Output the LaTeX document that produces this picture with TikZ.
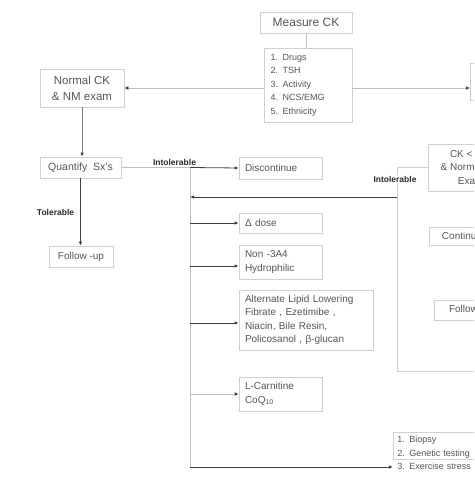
\documentclass[tikz,border=0pt]{standalone}
\usepackage{fontspec}
\setmainfont{Liberation Sans}
\usetikzlibrary{arrows.meta}
\definecolor{boxline}{HTML}{D0D0D0}
\definecolor{boxtext}{HTML}{555555}
\definecolor{labtext}{HTML}{2A2A2A}
\tikzset{
  font={\fontsize{10pt}{13.4pt}\selectfont}}

\begin{document}
\begin{tikzpicture}[x=1pt,y=-1pt,
  box/.style={draw=boxline,line width=0.6pt,fill=white,text=boxtext,inner xsep=6pt,inner ysep=2pt},
  lbox/.style={box,align=left,text width=#1},
  lab/.style={font=\bfseries\fontsize{8.5pt}{10pt}\selectfont,text=labtext,inner sep=1pt},
  lightline/.style={draw=black!25,line width=0.6pt},
  midline/.style={draw=black!50,line width=0.8pt},
  darkline/.style={draw=black!75,line width=0.8pt},
  arr/.style={-{Latex[length=4pt,width=3.5pt,color=black!75]}}]
\clip (0,0) rectangle (474,478);
\node[box,minimum width=92pt,minimum height=21pt,font=\fontsize{12pt}{14pt}\selectfont] (measure) at (306,22.5) {Measure CK};
\node[lbox=75pt,minimum height=74pt,inner xsep=6.5pt,font=\fontsize{9pt}{13.5pt}\selectfont] (tests) at (308,85) {1. Drugs\\2. TSH\\3. Activity\\4. NCS/EMG\\5. Ethnicity};
\node[box,minimum width=84pt,minimum height=38pt,align=center,font=\fontsize{11.5pt}{16pt}\selectfont] (normal) at (82,88) {Normal CK\\\& NM exam};
\node[box,minimum width=81pt,minimum height=21pt,font=\fontsize{10.5pt}{12pt}\selectfont] (quant) at (80.5,167.5) {Quantify\ \ Sx's};
\node[box,minimum width=64pt,minimum height=21pt] (follow) at (81,256.5) {Follow -up};
\node[lbox=71pt,minimum height=22pt] (disc) at (280.5,168) {Discontinue};
\node[lbox=71pt,minimum height=20pt] (dose) at (280.5,223) {Δ dose};
\node[lbox=71pt,minimum height=34pt] (nonA) at (280.5,262) {Non -3A4\\Hydrophilic};
\node[lbox=122pt,minimum height=60pt] (alt) at (306,320) {Alternate Lipid Lowering\\Fibrate , Ezetimibe ,\\Niacin, Bile Resin,\\Policosanol , β-glucan};
\node[lbox=71pt,minimum height=34pt] (carn) at (280.5,394) {L-Carnitine\\CoQ\textsubscript{10}};
\node[box,minimum width=90pt,minimum height=37pt,anchor=north west] (rbox) at (470,63) {};
\node[box,minimum width=130pt,minimum height=204pt,anchor=north west] (group) at (397,167) {};
\node[box,align=center,minimum width=85.4pt,minimum height=47pt,font=\fontsize{10pt}{13.5pt}\selectfont] (ckbox) at (470.7,167.5) {CK < 10x\\\& Normal NM\\Exam};
\node[box,minimum width=66pt,minimum height=18pt] (cont) at (462,236) {Continue};
\node[box,minimum width=73pt,minimum height=20pt] (foll) at (470.7,310) {Follow-up};
\node[lbox=100pt,inner xsep=4pt,inner ysep=4pt,text depth=12pt,anchor=north west,font=\fontsize{9pt}{13.5pt}\selectfont] (biopsy) at (393,432) {1. Biopsy\\2. Genetic testing\\3. Exercise stress};
\coordinate (jtop) at (190,167.5);
\coordinate (jbot) at (190,467);
\coordinate (gin) at (397,197);
\draw[lightline] (measure.south) -- (measure.south |- tests.north);
\draw[lightline,arr] (tests.west |- normal) -- (normal.east);
\draw[lightline,arr] (tests.east |- normal) -- (rbox.west |- normal);
\draw[midline,arr] (normal.south) -- (normal.south |- quant.north);
\draw[darkline,arr] (quant.south) -- (quant.south |- follow.north) node[lab,midway,left=5pt] {Tolerable};
\draw[lightline] (quant.east) -- (jtop) -- (jbot);
\node[lab,anchor=base] (intolA) at (174.5,166) {Intolerable};
\draw[darkline,arr] (jtop) -- (disc.west);
\draw[darkline,arr] (jtop |- dose.west) -- (dose.west);
\draw[darkline,arr] ([yshift=-4pt]nonA.west -| jtop) -- ([yshift=-4pt]nonA.west);
\draw[darkline,line width=1pt,arr] ([yshift=-3pt]alt.west -| jtop) -- ([yshift=-3pt]alt.west);
\draw[lightline,arr] (jtop |- carn.west) -- (carn.west);
\draw[darkline,arr] (gin) -- (gin -| jtop);
\node[lab,fill=white] (intolB) at (395,179) {Intolerable};
\draw[darkline,line width=1pt,arr] (jbot) -- (jbot -| biopsy.west);
\end{tikzpicture}
\end{document}
